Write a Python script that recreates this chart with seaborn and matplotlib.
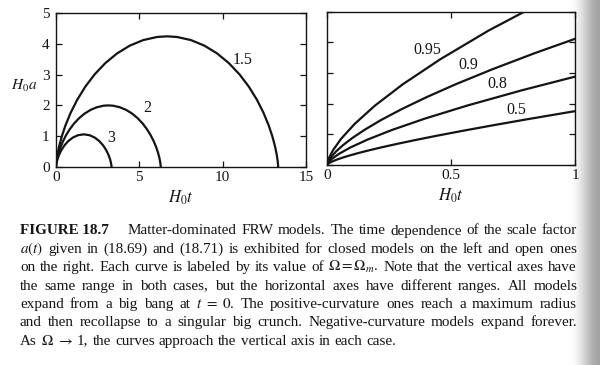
import re
import numpy as np
import pandas as pd
import matplotlib
matplotlib.use("Agg")
import matplotlib.pyplot as plt
import seaborn as sns

# ---------------- data ----------------
# closed models (left panel): H0 t, H0 a
closed_15_t = [0, 0.0004, 0.0028, 0.0095, 0.0224, 0.0750, 0.1753, 0.3363, 0.5684, 0.8794, 1.2737,
               1.7525, 2.3137, 2.9518, 3.6583, 4.4219, 5.2291, 6.0646, 6.6643,
               7.2640, 8.0995, 8.9067, 9.6703, 10.3768, 11.0149, 11.5761, 12.0549, 12.4492,
               12.7602, 12.9923, 13.1533, 13.2536, 13.3062, 13.3191, 13.3258, 13.3282, 13.3286]
closed_15_a = [0, 0.0106, 0.0423, 0.0947, 0.1675, 0.3705, 0.6434, 0.9752, 1.3526, 1.7608, 2.1833,
               2.6033, 3.0041, 3.3697, 3.6855, 3.9391, 4.1201, 4.2214, 4.2426,
               4.2214, 4.1201, 3.9391, 3.6855, 3.3697, 3.0041, 2.6033, 2.1833, 1.7608,
               1.3526, 0.9752, 0.6434, 0.3705, 0.1675, 0.0947, 0.0423, 0.0106, 0]
closed_2_t = [0, 0.0002, 0.0013, 0.0045, 0.0106, 0.0354, 0.0826, 0.1585, 0.2680, 0.4146, 0.6004,
              0.8262, 1.0907, 1.3915, 1.7245, 2.0845, 2.4650, 2.8589, 3.1416,
              3.4243, 3.8182, 4.1987, 4.5587, 4.8917, 5.1925, 5.4570, 5.6828, 5.8686,
              6.0152, 6.1247, 6.2006, 6.2478, 6.2726, 6.2787, 6.2819, 6.2830, 6.2832]
closed_2_a = [0, 0.0050, 0.0199, 0.0447, 0.0789, 0.1747, 0.3033, 0.4597, 0.6376, 0.8300, 1.0292,
              1.2272, 1.4161, 1.5885, 1.7374, 1.8569, 1.9422, 1.9900, 2.0,
              1.9900, 1.9422, 1.8569, 1.7374, 1.5885, 1.4161, 1.2272, 1.0292, 0.8300,
              0.6376, 0.4597, 0.3033, 0.1747, 0.0789, 0.0447, 0.0199, 0.0050, 0]
closed_3_t = [0, 0.001, 0.006, 0.030, 0.084, 0.178, 0.318, 0.506, 0.738, 1.008, 1.307, 1.666,
              2.025, 2.324, 2.594, 2.826, 3.014, 3.154, 3.248, 3.302, 3.326, 3.331, 3.332]
closed_3_a = [0, 0.011, 0.042, 0.125, 0.244, 0.388, 0.546, 0.702, 0.842, 0.955, 1.030, 1.061,
              1.030, 0.955, 0.842, 0.702, 0.546, 0.388, 0.244, 0.125, 0.042, 0.011, 0]

# open models (right panel): H0 t, H0 a
open_095_t = [0, 0.0009, 0.0071, 0.0239, 0.0568, 0.1110, 0.1920, 0.3055, 0.4568, 0.6518, 0.8962]
open_095_a = [0, 0.0531, 0.2126, 0.4789, 0.8526, 1.3346, 1.9262, 2.6289, 3.4443, 4.3807, 5.4222]
open_09_t = [0, 0.0003, 0.0024, 0.0080, 0.0190, 0.0372, 0.0643, 0.1023, 0.1530, 0.2183, 0.3002,
             0.4006, 0.5216, 0.6652, 0.8336, 1.0291]
open_09_a = [0, 0.0178, 0.0712, 0.1604, 0.2856, 0.4470, 0.6452, 0.8805, 1.1537, 1.4673, 1.8161,
             2.2071, 2.6392, 3.1128, 3.6311, 4.1933]
open_08_t = [0, 0.0001, 0.0007, 0.0025, 0.0060, 0.0117, 0.0202, 0.0481, 0.0943, 0.1639, 0.2620,
             0.3940, 0.5658, 0.7835, 1.0538]
open_08_a = [0, 0.0056, 0.0224, 0.0504, 0.0897, 0.1405, 0.2028, 0.3626, 0.5708, 0.8294, 1.1411,
             1.5091, 1.9368, 2.4287, 2.9897]
open_05_t = [0, 0.0001, 0.0009, 0.0032, 0.0076, 0.0149, 0.0259, 0.0414, 0.0623, 0.0895, 0.1239,
             0.1666, 0.2188, 0.2817, 0.3566, 0.4450, 0.5484, 0.6687, 0.8076, 0.9674, 1.1504]
open_05_a = [0, 0.0035, 0.0142, 0.0321, 0.0573, 0.0902, 0.1311, 0.1804, 0.2386, 0.3062, 0.3840,
             0.4727, 0.5732, 0.6865, 0.8138, 0.9563, 1.1154, 1.2928, 1.4902, 1.7096, 1.9532]

closed_labels = ["1.5", "2", "3"]
open_labels = ["0.95", "0.9", "0.8", "0.5"]
left_xticks = [0, 5, 10, 15]
right_xticks = [0, 0.5, 1]
right_xticklabels = ["0", "0.5", "1"]
yticks = [0, 1, 2, 3, 4, 5]

caption_head = "FIGURE 18.7"
caption_lines = [
    "Matter-dominated FRW models. The time dependence of the scale factor",
    "$a(t)$ given in (18.69) and (18.71) is exhibited for closed models on the left and open ones",
    "on the right. Each curve is labeled by its value of $\\Omega = \\Omega_m$. Note that the vertical axes have",
    "the same range in both cases, but the horizontal axes have different ranges. All models",
    "expand from a big bang at $t\\ =\\ 0$. The positive-curvature ones reach a maximum radius",
    "and then recollapse to a singular big crunch. Negative-curvature models expand forever.",
    "As $\\Omega\\ \\rightarrow$ 1, the curves approach the vertical axis in each case.",
]

# ---------------- build frames ----------------
def frame(ts, as_, lab):
    return pd.DataFrame({"t": ts, "a": as_, "omega": lab})

df_closed = pd.concat([frame(closed_15_t, closed_15_a, "1.5"),
                       frame(closed_2_t, closed_2_a, "2"),
                       frame(closed_3_t, closed_3_a, "3")], ignore_index=True)
df_open = pd.concat([frame(open_095_t, open_095_a, "0.95"),
                     frame(open_09_t, open_09_a, "0.9"),
                     frame(open_08_t, open_08_a, "0.8"),
                     frame(open_05_t, open_05_a, "0.5")], ignore_index=True)

# ---------------- style ----------------
sns.set_style("ticks")
plt.rcParams["font.family"] = ["Liberation Serif", "DejaVu Serif"]
plt.rcParams["mathtext.fontset"] = "stix"

W, H = 600, 365
fig = plt.figure(figsize=(6.0, 3.65), dpi=100)
fig.patch.set_facecolor("white")

# scan shadow at the right page edge (drawn first, behind everything)
grad = np.linspace(0, 1, 128)[None, :]
grad = grad * grad * (3 - 2 * grad)
shade_ax = fig.add_axes([570 / W, 0, 30 / W, 1], zorder=-5)
shade_ax.imshow(grad, aspect="auto", cmap=matplotlib.colors.LinearSegmentedColormap.from_list(
    "s", ["#ffffff", "#a4a4a4"]), extent=[0, 1, 0, 1])
shade_ax.set_axis_off()

def px_axes(l, r, t, b):
    return fig.add_axes([l / W, 1 - b / H, (r - l) / W, (b - t) / H])

axL = px_axes(56, 306, 13, 167)
axR = px_axes(327, 575, 11.5, 165)
axR.patch.set_alpha(0)

ink = "#141414"
sns.lineplot(data=df_closed, x="t", y="a", units="omega", estimator=None, sort=False,
             color=ink, lw=1.6, ax=axL, legend=False)
sns.lineplot(data=df_open, x="t", y="a", units="omega", estimator=None, sort=False,
             color=ink, lw=1.6, ax=axR, legend=False)

for ax in (axL, axR):
    ax.set_ylim(0, 5)
    ax.set_yticks(yticks)
    ax.tick_params(axis="both", which="both", direction="in", length=4, width=0.9,
                   top=True, right=True, labelsize=11, colors=ink, pad=3)
    for s in ax.spines.values():
        s.set_linewidth(1.0)
        s.set_color(ink)
    ax.set_xlabel("$H_0t$", fontsize=12, labelpad=3, color=ink)

axL.set_xlim(0, 15)
axL.set_xticks(left_xticks)
axL.set_xticklabels([str(v) for v in left_xticks])
axL.set_yticklabels([str(v) for v in yticks])
axL.tick_params(axis="y", pad=4.5)
axL.set_ylabel("$H_0a$", fontsize=11, rotation=0, color=ink)
axL.yaxis.set_label_coords(-0.128, 0.475)

axR.set_xlim(0, 1)
axR.set_xticks(right_xticks)
axR.set_xticklabels(right_xticklabels)
axR.set_yticklabels([])
axR.set_ylabel("")

# curve labels
for lab, (x, y) in zip(closed_labels, [(11.2, 3.47), (5.5, 1.92), (3.3, 0.94)]):
    axL.text(x, y, lab, fontsize=11.5, ha="center", va="center", color=ink)
for lab, (x, y) in zip(open_labels, [(0.405, 3.75), (0.57, 3.27), (0.688, 2.64), (0.762, 1.8)]):
    axR.text(x, y, lab, fontsize=11.5, ha="center", va="center", color=ink)

# ---------------- caption (justified) ----------------
fig.canvas.draw()
renderer = fig.canvas.get_renderer()
cap_fs = 10.9
x_left, x_right = 20.0, 577.0
baseline0, dy = 234.5, 18.35

def place(tokens, y_px, justify, start_x):
    texts, widths = [], []
    for tok in tokens:
        t = fig.text(0, 1 - y_px / H, tok, fontsize=cap_fs, va="baseline", ha="left", color=ink)
        texts.append(t)
        widths.append(t.get_window_extent(renderer).width)
    n = len(tokens)
    space_nat = cap_fs * 100 / 72 * 0.27
    if justify and n > 1:
        gap = (x_right - start_x - sum(widths)) / (n - 1)
    else:
        gap = space_nat
    x = start_x
    for t, w in zip(texts, widths):
        t.set_x(x / W)
        x += w + gap

for i, line in enumerate(caption_lines):
    toks = re.findall(r"\$[^$]*\$\S*|\S+", line)
    y = baseline0 + i * dy
    start = x_left
    if i == 0:
        head = fig.text(x_left / W, 1 - y / H, caption_head, fontsize=cap_fs, fontweight="bold",
                        va="baseline", ha="left", color=ink)
        start = x_left + head.get_window_extent(renderer).width + 19
    place(toks, y, justify=(i < len(caption_lines) - 1), start_x=start)

fig.savefig("out.png", dpi=100, facecolor="white")
